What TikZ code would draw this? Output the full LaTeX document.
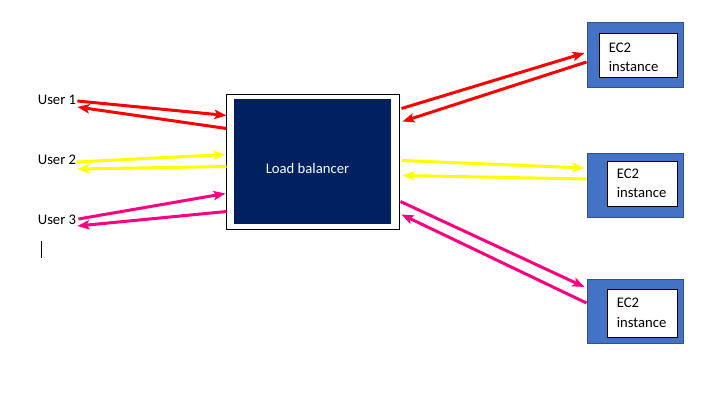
\documentclass[tikz,border=0pt]{standalone}
\usepackage{fontspec}
\setmainfont{Carlito}
\usepackage{tikz}
\usetikzlibrary{arrows.meta}
\definecolor{lbnavy}{HTML}{002060}
\definecolor{ecblue}{HTML}{4472C4}
\definecolor{ecedge}{HTML}{2F528F}
\definecolor{pinkline}{HTML}{FF0080}
\definecolor{yellowline}{HTML}{FFFF00}

\begin{document}
\begin{tikzpicture}[x=0.75pt,y=-0.75pt,
        txt/.style={font=\fontsize{11pt}{14.6pt}\selectfont, inner sep=0pt},
        flow/.style={line width=2.25pt, -{Stealth[length=9pt,width=7pt,inset=2pt]}},
        ecbox/.style={draw=ecedge, line width=0.75pt, fill=ecblue, minimum width=72pt, minimum height=48pt},
        ecin/.style={draw=black, line width=0.75pt, fill=white}]
        \useasboundingbox (0,0) rectangle (723,403);

        \node[txt] (u1) at (57,100) {User 1};
        \node[txt] (u2) at (57,160) {User 2};
        \node[txt] (u3) at (57,220) {User 3};
        \draw[line width=0.75pt] (41,241) -- (41,258);

        \node[draw, line width=0.75pt, minimum width=129.75pt, minimum height=101.25pt] (lb) at (312.5,161.5) {};
        \node[fill=lbnavy, minimum width=117.75pt, minimum height=93.75pt] (lbin) at (312.5,161.5) {};
        \node[txt, text=white] (lbtxt) at ([shift={(-5,6.5)}]lbin.center) {Load balancer};

        \node[ecbox] (ec1) at (635,55) {};
        \node[ecin, minimum width=58.5pt, minimum height=32.25pt] (ec1in) at (638,55.5) {};
        \node[txt, anchor=west, align=left] (ec1txt) at ([shift={(10,2)}]ec1in.west) {EC2\\instance};
        \node[ecbox] (ec2) at (635,185) {};
        \node[ecin, minimum width=52.5pt, minimum height=33.75pt] (ec2in) at (642,183.5) {};
        \node[txt, anchor=west, align=left] (ec2txt) at ([shift={(10,0)}]ec2in.west) {EC2\\instance};
        \node[ecbox] (ec3) at (635,311) {};
        \node[ecin, minimum width=52.5pt, minimum height=36pt] (ec3in) at (642,313) {};
        \node[txt, anchor=west, align=left] (ec3txt) at ([shift={(10,0)}]ec3in.west) {EC2\\instance};

        \draw[flow, red] ([shift={(1,1)}]u1.east) -- ([shift={(1,22)}]lb.north west);
        \draw[flow, red] ([shift={(1,35)}]lb.north west) -- ([shift={(1,7)}]u1.east);
        \draw[flow, yellowline] ([shift={(0,2)}]u2.east) -- ([shift={(0,61)}]lb.north west);
        \draw[flow, yellowline] ([shift={(1,73)}]lb.north west) -- ([shift={(1,9)}]u2.east);
        \draw[flow, pinkline] ([shift={(2,-1)}]u3.east) -- ([shift={(0,100)}]lb.north west);
        \draw[flow, pinkline] ([shift={(1,118)}]lb.north west) -- ([shift={(1,6)}]u3.east);

        \draw[flow, red] ([shift={(2,15)}]lb.north east) -- ([shift={(-2,-2)}]ec1.west);
        \draw[flow, red] ([shift={(0,7)}]ec1.west) -- ([shift={(3,28)}]lb.north east);
        \draw[flow, yellowline] ([shift={(2,67)}]lb.north east) -- ([shift={(-2,-17)}]ec2.west);
        \draw[flow, yellowline] ([shift={(0,-6)}]ec2.west) -- ([shift={(3,82)}]lb.north east);
        \draw[flow, pinkline] ([shift={(1,108)}]lb.north east) -- ([shift={(-2,-24)}]ec3.west);
        \draw[flow, pinkline] ([shift={(0,-8)}]ec3.west) -- ([shift={(2,121)}]lb.north east);
\end{tikzpicture}
\end{document}
